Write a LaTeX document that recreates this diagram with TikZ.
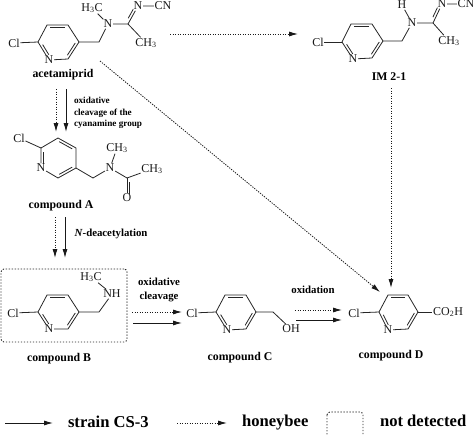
\documentclass[tikz,border=0pt]{standalone}
\usepackage{fontspec}
\setmainfont{Liberation Serif}
\usetikzlibrary{arrows.meta, calc}

\tikzset{
    bond/.style={line width=0.8pt, color=black!85},
    atom/.style={inner sep=0.6pt, font=\fontsize{12}{12}\selectfont, color=black!90},
    caption/.style={font=\fontsize{11.8}{12}\selectfont\bfseries},
    reaction/.style={font=\fontsize{10.8}{13.5}\selectfont\bfseries},
    small reaction/.style={font=\fontsize{9.2}{11.2}\selectfont\bfseries, align=left, anchor=west},
    legend/.style={font=\fontsize{16.6}{18}\selectfont\bfseries, anchor=base west},
    solidarrow/.style={-{Latex[length=9pt,width=5pt]}, line width=0.9pt, color=black!90},
    dotarrow/.style={-{Latex[length=9pt,width=5pt]}, line width=0.8pt, dash pattern=on 1.3pt off 1.2pt, color=black!90},
    hiddenbox/.style={draw=black!85, line width=0.9pt, dash pattern=on 1.3pt off 1.7pt, rounded corners=3pt},
}

% inner line of a double bond: from, to, how much shorter at both ends
\newcommand{\dblbond}[3]{
    \draw[bond] ($(#1)!#3!(#2)!2.6pt!90:(#2)$) -- ($(#2)!#3!(#1)!2.6pt!-90:(#1)$);
}

% ring: prefix, then positions of C2, C3, C4, C5, C6, N
\newcommand{\pyridine}[7]{
    \coordinate (#1c2) at #2;
    \coordinate (#1c3) at #3;
    \coordinate (#1c4) at #4;
    \coordinate (#1c5) at #5;
    \coordinate (#1c6) at #6;
    \node[atom] (#1n) at #7 {N};
    \draw[bond] (#1n) -- (#1c2) -- (#1c3) -- (#1c4) -- (#1c5) -- (#1c6) -- (#1n);
    \dblbond{#1c2}{#1n.center}{0.22}
    \dblbond{#1c6}{#1c5}{0.14}
    \dblbond{#1c4}{#1c3}{0.14}
}

\begin{document}
\begin{tikzpicture}[x=1pt, y=-1pt]

    \useasboundingbox (0,0) rectangle (474,434);

    % acetamiprid
    \pyridine{a}{(38,42)}{(47,25)}{(68,25)}{(79,42)}{(68,59)}{(49,60)}
    \node[atom] (aCl) at (14,43) {Cl};
    \coordinate (aCH) at (99,42);
    \node[atom] (aN) at (108,24) {N};
    \coordinate (aC) at (128,24);
    \node[atom] (aHC) at (92,8) {H$_{\mathrm{3}}$C};
    \node[atom] (aNb) at (138,6) {N};
    \node[atom] (aCN) at (163,6) {CN};
    \node[atom] (aCHb) at (146,43) {CH$_{\mathrm{3}}$};
    \draw[bond] (aCl) -- (ac2);
    \draw[bond] (ac5) -- (aCH) -- (aN) -- (aC) -- (aCHb);
    \draw[bond] (aN) -- (aHC);
    \draw[bond] (aC) -- (aNb) -- (aCN);
    \dblbond{aC}{aNb.center}{0.25}
    \node[caption] (acetamiprid) at (63,75) {acetamiprid};

    % IM 2-1
    \pyridine{i}{(342,42)}{(351,24)}{(372,24)}{(383,41)}{(372,58)}{(353,59)}
    \node[atom] (iCl) at (318,42) {Cl};
    \coordinate (iCH) at (402,41);
    \node[atom] (iN) at (412,23) {N};
    \coordinate (iC) at (433,23);
    \node[atom] (iH) at (402,5) {H};
    \node[atom] (iNb) at (442,4) {N};
    \node[atom] (iCN) at (466,4) {CN};
    \node[atom] (iCHb) at (449,41) {CH$_{\mathrm{3}}$};
    \draw[bond] (iCl) -- (ic2);
    \draw[bond] (ic5) -- (iCH) -- (iN) -- (iC) -- (iCHb);
    \draw[bond] (iN) -- (iH);
    \draw[bond] (iC) -- (iNb) -- (iCN);
    \dblbond{iC}{iNb.center}{0.25}
    \node[caption] (imtwo) at (389,77) {IM 2-1};

    % compound A
    \pyridine{c}{(41,148)}{(58,138)}{(76,148)}{(76,168)}{(58,178)}{(41,168)}
    \node[atom] (cCl) at (19,138) {Cl};
    \coordinate (cCH) at (93,178);
    \node[atom] (cN) at (110,168) {N};
    \coordinate (cC) at (127,178);
    \node[atom] (cCHb) at (117,148) {CH$_{\mathrm{3}}$};
    \node[atom] (cCHc) at (152,169) {CH$_{\mathrm{3}}$};
    \node[atom] (cO) at (127,198) {O};
    \draw[bond] (cCl) -- (cc2);
    \draw[bond] (cc5) -- (cCH) -- (cN) -- (cC) -- (cCHc);
    \draw[bond] (cN) -- (cCHb);
    \draw[bond] (cC) -- (cO);
    \dblbond{cC}{cO.center}{0.2}
    \node[caption] (compounda) at (61,206) {compound A};

    % compound B
    \pyridine{b}{(38,312)}{(47,295)}{(68,295)}{(79,312)}{(68,329)}{(49,329)}
    \node[atom] (bCl) at (13,313) {Cl};
    \coordinate (bCH) at (99,312);
    \node[atom] (bNH) at (112,294) {NH};
    \node[atom] (bHC) at (91,277) {H$_{\mathrm{3}}$C};
    \draw[bond] (bCl) -- (bc2);
    \draw[bond] (bc5) -- (bCH) -- (bNH);
    \draw[bond] (bNH) -- (bHC);
    \node[hiddenbox, minimum width=126pt, minimum height=73pt] (boxb) at (64,305.5) {};
    \node[caption] (compoundb) at (59,359) {compound B};

    % compound C
    \pyridine{d}{(216,312)}{(225,295)}{(246,295)}{(256,312)}{(246,329)}{(227,330)}
    \node[atom] (dCl) at (192,313) {Cl};
    \coordinate (dCH) at (273,312);
    \node[atom] (dOH) at (291,329) {OH};
    \draw[bond] (dCl) -- (dc2);
    \draw[bond] (dc5) -- (dCH) -- (dOH);
    \node[caption] (compoundc) at (240,358) {compound C};

    % compound D
    \pyridine{e}{(379,312)}{(388,295)}{(408,295)}{(418,312)}{(408,329)}{(388,330)}
    \node[atom] (eCl) at (354,313) {Cl};
    \node[atom] (eCO) at (448,312) {CO$_{\mathrm{2}}$H};
    \draw[bond] (eCl) -- (ec2);
    \draw[bond] (ec5) -- (eCO);
    \node[caption] (compoundd) at (391,356) {compound D};

    % free ends of the arrows
    \coordinate (s1) at (170,34);
    \coordinate (e1) at (298,34);
    \coordinate (s2) at (100,61);
    \coordinate (e2) at (380,292);
    \coordinate (s3) at (391,88);
    \coordinate (e3) at (391,288);
    \coordinate (s4) at (56,89);
    \coordinate (e4) at (56,132);
    \coordinate (s5) at (66,89);
    \coordinate (e5) at (66,132);
    \coordinate (s6) at (55,217);
    \coordinate (e6) at (55,258);
    \coordinate (s7) at (65,217);
    \coordinate (e7) at (65,258);
    \coordinate (s8) at (132,312);
    \coordinate (e8) at (182,312);
    \coordinate (s9) at (133,323);
    \coordinate (e9) at (182,323);
    \coordinate (s10) at (295,310);
    \coordinate (e10) at (342,310);
    \coordinate (s11) at (296,320);
    \coordinate (e11) at (342,320);

    % Reactions
    \draw[dotarrow] (s1) -- (e1);
    \draw[dotarrow] (s2) -- (e2);
    \draw[dotarrow] (s3) -- (e3);
    \draw[dotarrow] (s4) -- (e4);
    \draw[solidarrow] (s5) -- (e5);
    \draw[dotarrow] (s6) -- (e6);
    \draw[solidarrow] (s7) -- (e7);
    \draw[dotarrow] (s8) -- (e8);
    \draw[solidarrow] (s9) -- (e9);
    \draw[dotarrow] (s10) -- (e10);
    \draw[solidarrow] (s11) -- (e11);

    % Annotations
    \node[small reaction] (cleavagea) at (70.5,113) {oxidative\\cleavage of the\\cyanamine group};
    \node[reaction, anchor=west] (deacetylation) at (71,234) {\textit{N}-deacetylation};
    \node[reaction, align=center] (cleavageb) at (159,290) {oxidative\\cleavage};
    \node[reaction] (oxidation) at (313,290) {oxidation};

    % Legend
    \coordinate (ls1) at (5,423);
    \coordinate (le1) at (53,423);
    \coordinate (ls2) at (177,423);
    \coordinate (le2) at (227,423);
    \draw[solidarrow] (ls1) -- (le1);
    \node[legend] (strain) at (64.5,427) {strain CS-3};
    \draw[dotarrow] (ls2) -- (le2);
    \node[legend] (honeybee) at (238.5,426.5) {honeybee};
    \draw[hiddenbox] (327,412) rectangle (363,438);
    \node[legend] (notdetected) at (376.5,426) {not detected};

\end{tikzpicture}
\end{document}
